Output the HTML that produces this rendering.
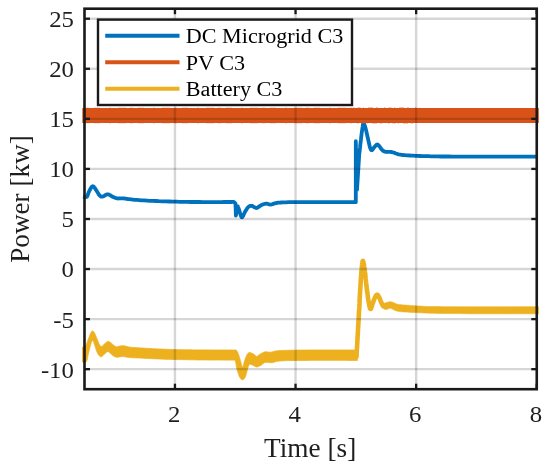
<!DOCTYPE html>
<html><head><meta charset="utf-8"><title>Power plot</title>
<style>
html,body{margin:0;padding:0;background:#fff;}
svg{display:block;font-family:"Liberation Serif",serif;fill:#1e1e1e;}
text{stroke:none;}
</style></head><body>
<svg width="550" height="469" viewBox="0 0 550 469">
<rect width="550" height="469" fill="#fff"/>
<g fill="none" stroke-linejoin="round" stroke-linecap="butt">
<path d="M83.2,196.4 L83.5,196.5 L83.9,196.6 L84.3,196.8 L84.9,196.9 L85.4,197.1 L85.9,197.1 L86.4,197.0 L86.8,196.8 L87.1,196.4 L87.4,195.9 L87.7,195.2 L87.9,194.5 L88.2,193.7 L88.5,192.9 L88.8,192.1 L89.1,191.4 L89.5,190.7 L89.9,189.9 L90.4,189.0 L90.8,188.2 L91.3,187.4 L91.8,186.8 L92.2,186.4 L92.7,186.2 L93.2,186.3 L93.6,186.6 L94.1,187.1 L94.6,187.7 L95.1,188.4 L95.5,189.2 L96.0,189.9 L96.4,190.5 L96.8,191.1 L97.2,191.7 L97.6,192.4 L98.0,193.1 L98.4,193.7 L98.8,194.3 L99.1,194.9 L99.5,195.3 L99.8,195.7 L100.2,196.0 L100.5,196.2 L100.8,196.5 L101.1,196.6 L101.4,196.7 L101.8,196.7 L102.3,196.7 L102.9,196.5 L103.5,196.3 L104.2,195.9 L104.9,195.4 L105.6,195.0 L106.3,194.6 L107.0,194.4 L107.7,194.3 L108.3,194.4 L109.0,194.6 L109.6,194.9 L110.3,195.3 L110.9,195.7 L111.5,196.1 L112.1,196.5 L112.7,196.8 L113.3,197.1 L113.9,197.3 L114.4,197.5 L115.0,197.8 L115.5,198.0 L116.1,198.1 L116.7,198.3 L117.3,198.4 L117.9,198.5 L118.5,198.5 L119.1,198.4 L119.7,198.4 L120.3,198.3 L121.0,198.3 L121.8,198.3 L122.7,198.3 L123.7,198.4 L124.6,198.5 L125.7,198.7 L126.8,198.9 L128.0,199.1 L129.4,199.2 L130.9,199.4 L132.7,199.6 L134.7,199.8 L136.8,199.9 L139.1,200.1 L141.6,200.3 L144.2,200.4 L147.0,200.6 L149.8,200.8 L152.7,200.9 L155.7,201.0 L158.9,201.2 L162.3,201.3 L165.7,201.4 L169.2,201.5 L172.8,201.6 L176.4,201.7 L180.0,201.8 L183.7,201.9 L187.5,201.9 L191.5,202.0 L195.5,202.0 L199.4,202.0 L203.1,202.1 L206.7,202.1 L210.0,202.1 L213.1,202.1 L216.1,202.1 L218.9,202.1 L221.6,202.1 L224.1,202.0 L226.4,202.0 L228.3,202.0 L230.0,202.0 L231.3,202.0 L232.1,202.0 L232.7,201.9 L233.0,201.9 L233.2,201.9 L233.3,201.9 L233.4,201.9 L233.7,202.0 L234.0,202.1 L234.3,202.3 L234.6,202.5 L234.8,202.8 L235.0,203.0 L235.2,203.2 L235.4,203.4 L235.5,203.5 L235.9,215.6 L237.9,206.4 L237.9,206.4 L238.0,206.8 L238.2,207.4 L238.5,208.1 L238.7,208.9 L239.0,209.7 L239.3,210.5 L239.5,211.3 L239.8,212.0 L240.0,212.8 L240.3,213.6 L240.5,214.5 L240.8,215.4 L241.0,216.1 L241.3,216.8 L241.6,217.2 L241.9,217.3 L242.3,217.1 L242.6,216.6 L243.1,215.9 L243.5,215.0 L243.9,214.1 L244.4,213.1 L244.8,212.2 L245.2,211.5 L245.6,210.9 L246.0,210.2 L246.4,209.6 L246.8,209.0 L247.1,208.4 L247.5,207.9 L247.9,207.4 L248.3,207.0 L248.7,206.7 L249.1,206.4 L249.5,206.2 L249.9,206.0 L250.3,205.9 L250.7,205.9 L251.1,205.8 L251.5,205.8 L251.8,205.8 L252.2,205.9 L252.5,206.1 L252.8,206.3 L253.1,206.5 L253.4,206.7 L253.7,206.8 L254.0,207.0 L254.3,207.2 L254.6,207.3 L255.0,207.5 L255.3,207.7 L255.6,207.8 L255.9,207.9 L256.3,208.0 L256.6,208.0 L257.0,207.9 L257.3,207.8 L257.7,207.6 L258.1,207.3 L258.4,207.0 L258.8,206.8 L259.1,206.5 L259.5,206.3 L259.8,206.1 L260.1,205.9 L260.4,205.7 L260.7,205.5 L261.0,205.3 L261.3,205.1 L261.7,204.9 L262.1,204.7 L262.6,204.5 L263.1,204.4 L263.6,204.2 L264.2,204.0 L264.8,203.9 L265.4,203.8 L265.9,203.7 L266.5,203.7 L267.0,203.7 L267.6,203.8 L268.1,204.0 L268.6,204.2 L269.1,204.4 L269.6,204.5 L270.2,204.6 L270.8,204.6 L271.4,204.5 L272.0,204.4 L272.6,204.1 L273.3,203.9 L274.0,203.6 L274.7,203.4 L275.5,203.2 L276.3,203.0 L277.2,202.9 L278.1,202.7 L279.1,202.6 L280.1,202.6 L281.1,202.5 L282.3,202.4 L283.6,202.4 L285.0,202.3 L286.5,202.3 L288.0,202.2 L289.5,202.2 L291.2,202.2 L293.0,202.2 L295.0,202.2 L297.4,202.2 L300.0,202.2 L303.1,202.2 L306.6,202.2 L310.4,202.2 L314.4,202.2 L318.4,202.2 L322.5,202.2 L326.4,202.2 L330.0,202.2 L333.6,202.2 L337.2,202.2 L340.9,202.2 L344.5,202.2 L347.9,202.2 L350.9,202.2 L353.4,202.2 L355.3,202.2 L355.8,202.2 L355.8,141.2 L357.0,190.0 L359.2,155.0 L359.2,155.0 L359.3,153.6 L359.6,151.8 L359.8,149.6 L360.1,147.2 L360.3,144.7 L360.6,142.2 L360.9,140.0 L361.1,138.0 L361.3,136.3 L361.5,134.7 L361.7,133.1 L361.9,131.7 L362.1,130.3 L362.3,129.1 L362.4,128.0 L362.6,127.0 L362.7,126.1 L362.8,125.4 L362.9,124.8 L363.0,124.2 L363.1,123.8 L363.2,123.5 L363.4,123.4 L363.5,123.3 L363.7,123.4 L363.9,123.6 L364.0,123.9 L364.3,124.3 L364.5,124.8 L364.7,125.5 L364.9,126.2 L365.2,127.0 L365.5,127.9 L365.8,129.1 L366.1,130.3 L366.4,131.6 L366.7,133.0 L367.0,134.4 L367.3,135.7 L367.6,137.0 L367.9,138.3 L368.2,139.7 L368.5,141.0 L368.8,142.4 L369.1,143.7 L369.4,145.0 L369.6,146.1 L369.9,147.0 L370.1,147.8 L370.4,148.4 L370.6,149.0 L370.8,149.4 L371.0,149.8 L371.2,150.0 L371.4,150.2 L371.7,150.2 L372.0,150.1 L372.3,149.8 L372.7,149.4 L373.0,149.0 L373.4,148.4 L373.8,147.9 L374.1,147.4 L374.5,147.0 L374.8,146.6 L375.2,146.2 L375.5,145.8 L375.9,145.4 L376.2,145.1 L376.5,144.8 L376.9,144.6 L377.2,144.5 L377.5,144.6 L377.9,144.7 L378.2,145.0 L378.5,145.3 L378.9,145.7 L379.2,146.1 L379.5,146.4 L379.8,146.8 L380.1,147.2 L380.4,147.5 L380.6,148.0 L380.9,148.4 L381.2,148.8 L381.5,149.2 L381.8,149.6 L382.1,149.9 L382.4,150.2 L382.8,150.5 L383.1,150.8 L383.5,151.0 L383.9,151.3 L384.3,151.5 L384.8,151.6 L385.4,151.8 L386.1,151.9 L386.8,151.9 L387.6,151.9 L388.4,151.9 L389.3,151.9 L390.2,151.9 L391.1,152.0 L391.9,152.1 L392.7,152.3 L393.5,152.5 L394.4,152.8 L395.2,153.2 L396.0,153.5 L396.9,153.8 L397.7,154.1 L398.5,154.3 L399.3,154.5 L399.9,154.6 L400.6,154.7 L401.2,154.8 L401.9,154.9 L402.8,155.0 L403.8,155.1 L405.0,155.2 L406.4,155.3 L407.9,155.4 L409.6,155.5 L411.3,155.6 L413.3,155.7 L415.3,155.8 L417.6,155.9 L420.0,156.0 L422.6,156.1 L425.3,156.2 L428.2,156.2 L431.2,156.3 L434.5,156.3 L437.8,156.4 L441.3,156.5 L445.0,156.5 L448.7,156.5 L452.5,156.6 L456.4,156.6 L460.5,156.6 L464.8,156.7 L469.5,156.7 L474.5,156.7 L480.0,156.7 L486.4,156.7 L494.0,156.7 L502.2,156.7 L510.6,156.7 L518.7,156.7 L526.0,156.7 L532.2,156.7 L536.8,156.7" stroke="#0072BD" stroke-width="3.8"/>
<path d="M82.3,115.45 H538.8" stroke="#D95319" stroke-width="15"/>
<path d="M86,107.7 H352 M86,123.2 H352" stroke="#D95319" stroke-width="0.6" stroke-opacity="0.4" stroke-dasharray="3 5 6 9 2 7 8 4"/>
<path d="M353,107.6 H420 M357,123.3 H417" stroke="#D95319" stroke-width="0.8" stroke-opacity="0.5" stroke-dasharray="1.5 3 3 2.5 1 4 5 3 2 6"/>
<path d="M82.5,347.0 L82.7,347.0 L83.1,346.9 L83.4,346.9 L83.8,346.9 L84.3,346.8 L84.7,346.6 L85.1,346.4 L85.5,346.0 L85.8,345.5 L86.2,344.9 L86.5,344.1 L86.8,343.3 L87.1,342.5 L87.4,341.7 L87.7,340.8 L88.0,340.0 L88.3,339.2 L88.6,338.3 L89.0,337.4 L89.3,336.5 L89.6,335.7 L89.9,334.9 L90.2,334.1 L90.5,333.5 L90.8,333.0 L91.0,332.5 L91.3,332.1 L91.5,331.7 L91.8,331.4 L92.0,331.2 L92.3,331.1 L92.5,331.0 L92.7,331.0 L93.0,331.1 L93.2,331.2 L93.4,331.4 L93.7,331.7 L93.9,332.0 L94.2,332.5 L94.5,333.0 L94.8,333.6 L95.2,334.4 L95.6,335.3 L96.0,336.3 L96.4,337.3 L96.8,338.2 L97.1,339.2 L97.5,340.0 L97.8,340.8 L98.2,341.6 L98.5,342.4 L98.8,343.1 L99.1,343.9 L99.4,344.5 L99.7,345.1 L100.0,345.5 L100.3,345.8 L100.5,346.1 L100.7,346.3 L101.0,346.4 L101.2,346.4 L101.4,346.4 L101.7,346.3 L102.0,346.2 L102.3,346.0 L102.7,345.8 L103.1,345.4 L103.5,345.0 L103.8,344.6 L104.2,344.2 L104.6,343.8 L105.0,343.5 L105.4,343.2 L105.7,342.9 L106.1,342.5 L106.4,342.2 L106.8,341.9 L107.1,341.7 L107.5,341.5 L107.8,341.4 L108.1,341.4 L108.5,341.4 L108.8,341.5 L109.1,341.7 L109.5,341.8 L109.8,342.1 L110.1,342.3 L110.5,342.5 L110.9,342.8 L111.2,343.0 L111.6,343.4 L112.0,343.7 L112.4,344.1 L112.8,344.4 L113.1,344.7 L113.5,345.0 L113.8,345.3 L114.1,345.6 L114.4,345.8 L114.7,346.1 L115.0,346.3 L115.3,346.5 L115.6,346.7 L116.0,346.8 L116.4,346.8 L116.9,346.8 L117.4,346.7 L117.9,346.5 L118.5,346.4 L119.0,346.2 L119.5,346.1 L120.0,346.0 L120.5,345.9 L120.9,345.9 L121.4,345.8 L121.8,345.8 L122.3,345.7 L122.7,345.7 L123.2,345.7 L123.6,345.7 L124.0,345.7 L124.4,345.8 L124.9,345.9 L125.3,346.0 L125.7,346.2 L126.1,346.3 L126.5,346.4 L127.0,346.5 L127.5,346.6 L127.9,346.7 L128.4,346.8 L128.8,346.9 L129.3,347.0 L129.9,347.1 L130.5,347.2 L131.3,347.3 L132.1,347.4 L133.0,347.5 L134.0,347.5 L135.0,347.6 L136.1,347.7 L137.3,347.7 L138.6,347.8 L140.0,347.9 L141.5,348.0 L143.2,348.1 L144.9,348.2 L146.8,348.3 L148.7,348.5 L150.8,348.6 L152.8,348.7 L155.0,348.8 L157.2,348.9 L159.5,349.0 L161.9,349.1 L164.4,349.2 L166.9,349.3 L169.5,349.4 L172.2,349.5 L175.0,349.6 L177.9,349.7 L180.8,349.7 L183.8,349.8 L186.9,349.8 L190.0,349.8 L193.3,349.9 L196.6,349.9 L200.0,349.9 L203.7,349.9 L207.7,349.9 L211.9,350.0 L216.2,350.0 L220.3,350.0 L224.0,350.0 L227.3,350.0 L230.0,350.0 L232.0,350.0 L233.4,350.0 L234.4,350.0 L235.0,350.0 L235.4,350.0 L235.7,350.0 L236.0,350.0 L236.3,350.0 L236.4,350.2 L236.6,350.4 L236.8,350.7 L237.0,351.0 L237.2,351.4 L237.4,351.7 L237.6,352.1 L237.8,352.5 L238.0,352.9 L238.2,353.3 L238.3,353.8 L238.5,354.3 L238.7,354.8 L238.8,355.3 L239.0,355.8 L239.2,356.4 L239.4,357.0 L239.6,357.7 L239.8,358.4 L240.0,359.1 L240.2,359.8 L240.4,360.6 L240.6,361.3 L240.8,362.0 L241.0,362.7 L241.2,363.6 L241.4,364.5 L241.6,365.3 L241.9,366.1 L242.1,366.7 L242.3,367.1 L242.5,367.3 L242.7,367.1 L242.9,366.7 L243.1,366.1 L243.4,365.3 L243.6,364.4 L243.8,363.5 L244.0,362.7 L244.2,362.0 L244.4,361.4 L244.6,360.8 L244.8,360.2 L244.9,359.6 L245.1,359.1 L245.3,358.5 L245.5,358.0 L245.7,357.5 L245.9,357.0 L246.1,356.5 L246.3,356.0 L246.6,355.6 L246.8,355.1 L247.0,354.7 L247.3,354.3 L247.5,354.0 L247.7,353.7 L248.0,353.4 L248.2,353.2 L248.4,353.0 L248.6,352.8 L248.9,352.6 L249.2,352.5 L249.5,352.5 L249.9,352.5 L250.3,352.6 L250.7,352.7 L251.2,352.9 L251.6,353.1 L252.0,353.2 L252.4,353.4 L252.8,353.6 L253.1,353.8 L253.4,353.9 L253.7,354.1 L253.9,354.3 L254.1,354.5 L254.3,354.6 L254.6,354.8 L254.8,355.0 L255.0,355.2 L255.3,355.4 L255.5,355.6 L255.7,355.9 L255.9,356.1 L256.1,356.2 L256.4,356.4 L256.6,356.4 L256.9,356.4 L257.1,356.2 L257.4,356.1 L257.7,355.9 L258.0,355.6 L258.2,355.4 L258.5,355.2 L258.8,355.0 L259.1,354.8 L259.3,354.7 L259.5,354.5 L259.8,354.3 L260.0,354.2 L260.3,354.0 L260.6,353.8 L261.0,353.6 L261.4,353.4 L261.9,353.1 L262.4,352.9 L263.0,352.6 L263.6,352.3 L264.2,352.1 L264.8,351.9 L265.4,351.8 L266.0,351.8 L266.7,351.8 L267.3,351.9 L268.0,352.0 L268.7,352.1 L269.4,352.2 L270.1,352.2 L270.8,352.2 L271.5,352.1 L272.1,352.0 L272.7,351.8 L273.3,351.6 L274.0,351.4 L274.7,351.2 L275.5,351.0 L276.3,350.9 L277.2,350.8 L278.1,350.7 L279.1,350.6 L280.1,350.6 L281.1,350.5 L282.3,350.5 L283.6,350.4 L285.0,350.4 L286.5,350.4 L288.0,350.3 L289.5,350.3 L291.2,350.2 L293.0,350.2 L295.0,350.2 L297.4,350.1 L300.0,350.1 L303.1,350.1 L306.5,350.1 L310.3,350.0 L314.2,350.0 L318.3,350.0 L322.4,350.0 L326.3,350.0 L330.0,350.0 L333.7,350.0 L337.6,350.0 L341.5,350.0 L345.4,350.0 L349.0,350.0 L352.2,350.0 L354.9,350.0 L357.0,350.0 L357.4,360.4 L355.3,360.4 L352.5,360.4 L349.2,360.4 L345.6,360.3 L341.7,360.3 L337.7,360.3 L333.7,360.3 L330.0,360.3 L326.3,360.3 L322.3,360.3 L318.3,360.3 L314.2,360.3 L310.3,360.3 L306.5,360.4 L303.1,360.4 L300.0,360.4 L297.4,360.4 L295.0,360.5 L293.0,360.5 L291.1,360.5 L289.4,360.6 L287.9,360.6 L286.4,360.6 L285.0,360.7 L283.7,360.8 L282.5,360.8 L281.5,360.9 L280.6,360.9 L279.8,361.0 L279.0,361.1 L278.2,361.2 L277.4,361.3 L276.6,361.4 L275.9,361.6 L275.2,361.8 L274.6,362.1 L273.9,362.3 L273.3,362.5 L272.6,362.6 L271.9,362.7 L271.1,362.7 L270.3,362.7 L269.4,362.6 L268.6,362.5 L267.7,362.4 L266.9,362.3 L266.1,362.3 L265.4,362.4 L264.7,362.6 L264.1,362.9 L263.5,363.3 L262.9,363.8 L262.4,364.2 L261.9,364.6 L261.4,365.0 L261.0,365.3 L260.6,365.5 L260.3,365.7 L260.0,365.8 L259.8,365.9 L259.5,366.0 L259.3,366.1 L259.1,366.2 L258.8,366.3 L258.5,366.4 L258.2,366.5 L258.0,366.6 L257.7,366.8 L257.4,366.9 L257.1,366.9 L256.9,367.0 L256.6,367.0 L256.4,367.0 L256.1,366.9 L255.9,366.9 L255.7,366.8 L255.5,366.6 L255.3,366.5 L255.0,366.4 L254.8,366.3 L254.6,366.2 L254.3,366.1 L254.1,366.0 L253.9,365.8 L253.6,365.7 L253.4,365.6 L253.1,365.4 L252.8,365.3 L252.5,365.1 L252.1,365.0 L251.7,364.8 L251.3,364.6 L250.8,364.4 L250.5,364.3 L250.1,364.2 L249.8,364.2 L249.6,364.3 L249.4,364.4 L249.2,364.6 L249.0,364.8 L248.9,365.1 L248.8,365.4 L248.6,365.7 L248.5,366.0 L248.4,366.3 L248.2,366.7 L248.1,367.1 L248.0,367.5 L247.8,367.9 L247.7,368.4 L247.6,368.9 L247.4,369.5 L247.2,370.2 L247.0,371.0 L246.8,371.9 L246.6,372.8 L246.3,373.7 L246.1,374.6 L245.9,375.3 L245.7,376.0 L245.5,376.5 L245.3,377.0 L245.1,377.4 L244.9,377.7 L244.8,378.0 L244.6,378.3 L244.4,378.6 L244.2,378.8 L244.0,379.0 L243.8,379.2 L243.6,379.4 L243.4,379.5 L243.1,379.7 L242.9,379.7 L242.7,379.8 L242.5,379.8 L242.3,379.8 L242.1,379.7 L241.9,379.7 L241.6,379.5 L241.4,379.4 L241.2,379.2 L241.0,379.0 L240.8,378.8 L240.6,378.6 L240.4,378.3 L240.2,378.0 L240.0,377.7 L239.8,377.4 L239.6,377.0 L239.4,376.5 L239.2,376.0 L238.9,375.4 L238.7,374.6 L238.4,373.8 L238.1,372.9 L237.8,372.0 L237.5,371.1 L237.2,370.3 L237.0,369.5 L236.8,368.8 L236.7,368.0 L236.5,367.3 L236.4,366.6 L236.3,365.9 L236.2,365.2 L236.1,364.6 L236.0,364.0 L235.9,363.4 L235.8,362.8 L235.7,362.3 L235.5,361.8 L235.4,361.3 L235.3,360.8 L235.3,360.5 L235.2,360.2 L235.0,360.2 L234.8,360.2 L234.7,360.2 L234.5,360.2 L234.0,360.1 L233.2,360.1 L231.9,360.1 L230.0,360.1 L227.4,360.1 L224.1,360.1 L220.3,360.0 L216.2,360.0 L212.0,360.0 L207.7,360.0 L203.7,359.9 L200.0,359.9 L196.6,359.9 L193.3,359.8 L190.0,359.8 L186.9,359.7 L183.8,359.7 L180.8,359.6 L177.9,359.6 L175.0,359.5 L172.2,359.4 L169.5,359.3 L166.9,359.3 L164.4,359.2 L161.9,359.1 L159.5,359.0 L157.2,358.9 L155.0,358.8 L152.8,358.7 L150.8,358.6 L148.7,358.5 L146.8,358.4 L144.9,358.3 L143.2,358.2 L141.5,358.1 L140.0,358.0 L138.6,357.9 L137.3,357.9 L136.1,357.9 L135.0,357.8 L134.0,357.8 L133.0,357.8 L132.1,357.7 L131.3,357.7 L130.5,357.6 L129.9,357.6 L129.3,357.5 L128.8,357.5 L128.4,357.4 L127.9,357.3 L127.5,357.3 L127.0,357.2 L126.5,357.1 L126.1,357.0 L125.7,356.9 L125.3,356.9 L124.9,356.8 L124.4,356.7 L124.0,356.6 L123.6,356.6 L123.2,356.6 L122.7,356.6 L122.3,356.6 L121.8,356.6 L121.4,356.7 L120.9,356.7 L120.4,356.8 L120.0,356.8 L119.6,356.9 L119.1,356.9 L118.7,357.0 L118.2,357.1 L117.8,357.2 L117.3,357.2 L116.9,357.2 L116.5,357.2 L116.1,357.1 L115.7,357.0 L115.3,356.9 L115.0,356.8 L114.6,356.6 L114.2,356.4 L113.9,356.2 L113.5,356.0 L113.1,355.7 L112.7,355.5 L112.4,355.1 L112.0,354.8 L111.6,354.4 L111.2,354.1 L110.9,353.8 L110.5,353.5 L110.2,353.2 L109.8,352.9 L109.5,352.6 L109.2,352.3 L108.8,352.0 L108.5,351.8 L108.2,351.7 L107.8,351.7 L107.4,351.8 L107.0,352.0 L106.6,352.2 L106.1,352.6 L105.7,352.9 L105.3,353.3 L104.9,353.7 L104.5,354.0 L104.1,354.3 L103.8,354.7 L103.4,355.1 L103.1,355.5 L102.8,355.8 L102.4,356.2 L102.1,356.4 L101.8,356.6 L101.5,356.7 L101.2,356.8 L100.9,356.8 L100.6,356.7 L100.4,356.6 L100.1,356.5 L99.8,356.3 L99.5,356.0 L99.2,355.7 L98.9,355.3 L98.6,354.9 L98.3,354.5 L98.0,353.9 L97.6,353.4 L97.3,352.7 L97.0,352.0 L96.7,351.2 L96.3,350.2 L96.0,349.1 L95.6,348.0 L95.3,346.8 L94.9,345.8 L94.6,344.8 L94.3,344.0 L94.0,343.3 L93.8,342.6 L93.6,342.1 L93.3,341.5 L93.1,341.1 L92.9,340.8 L92.7,340.6 L92.5,340.5 L92.3,340.6 L92.1,340.8 L91.9,341.1 L91.7,341.5 L91.5,342.0 L91.3,342.6 L91.0,343.3 L90.8,344.0 L90.5,344.9 L90.3,345.9 L90.0,347.0 L89.7,348.2 L89.4,349.4 L89.1,350.7 L88.8,351.9 L88.5,353.0 L88.2,354.1 L88.0,355.3 L87.8,356.6 L87.6,357.8 L87.4,358.9 L87.1,359.9 L86.8,360.8 L86.5,361.5 L86.1,361.9 L85.5,362.2 L85.0,362.3 L84.4,362.3 L83.8,362.2 L83.3,362.1 L82.8,362.0 L82.5,362.0Z" fill="#EDB120" stroke="#EDB120" stroke-width="0.8"/>
<path d="M382.3,303.6 L382.4,303.6 L382.5,303.6 L382.7,303.6 L382.8,303.6 L383.0,303.5 L383.3,303.5 L383.5,303.5 L383.8,303.4 L384.1,303.3 L384.5,303.2 L384.9,303.1 L385.3,302.9 L385.7,302.8 L386.1,302.6 L386.6,302.5 L387.0,302.4 L387.4,302.3 L387.9,302.2 L388.3,302.0 L388.7,301.9 L389.2,301.8 L389.6,301.7 L390.1,301.7 L390.6,301.7 L391.1,301.8 L391.7,301.9 L392.2,302.1 L392.8,302.3 L393.4,302.6 L394.0,302.8 L394.5,303.0 L395.0,303.2 L395.4,303.4 L395.8,303.5 L396.1,303.7 L396.4,303.8 L396.7,304.0 L397.1,304.1 L397.7,304.3 L398.4,304.4 L399.3,304.5 L400.4,304.6 L401.5,304.8 L402.8,304.9 L404.1,305.0 L405.5,305.1 L406.9,305.2 L408.4,305.3 L409.9,305.4 L411.6,305.5 L413.3,305.7 L415.0,305.8 L416.8,305.9 L418.6,306.0 L420.3,306.1 L422.0,306.2 L423.4,306.3 L424.4,306.3 L425.3,306.4 L426.3,306.4 L427.4,306.5 L429.1,306.5 L431.4,306.6 L434.5,306.6 L438.5,306.6 L443.2,306.7 L448.6,306.7 L454.4,306.7 L460.5,306.8 L466.9,306.8 L473.5,306.8 L480.0,306.8 L487.1,306.8 L495.1,306.8 L503.6,306.8 L512.1,306.8 L520.3,306.7 L527.7,306.7 L533.9,306.7 L538.5,306.7 L538.5,313.8 L533.9,313.8 L527.7,313.8 L520.3,313.8 L512.1,313.8 L503.6,313.8 L495.1,313.8 L487.1,313.8 L480.0,313.8 L473.5,313.8 L466.9,313.7 L460.5,313.6 L454.4,313.6 L448.6,313.5 L443.2,313.4 L438.5,313.4 L434.5,313.3 L431.4,313.2 L429.1,313.2 L427.4,313.1 L426.3,313.1 L425.3,313.0 L424.4,312.9 L423.4,312.9 L422.0,312.8 L420.3,312.7 L418.6,312.7 L416.8,312.6 L415.0,312.5 L413.2,312.4 L411.5,312.4 L409.9,312.3 L408.4,312.2 L407.0,312.1 L405.7,312.0 L404.5,312.0 L403.3,311.9 L402.2,311.8 L401.2,311.7 L400.2,311.6 L399.3,311.5 L398.5,311.4 L397.8,311.3 L397.2,311.1 L396.7,311.0 L396.2,310.8 L395.7,310.7 L395.2,310.5 L394.7,310.3 L394.1,310.1 L393.6,309.8 L393.0,309.5 L392.4,309.1 L391.9,308.8 L391.3,308.6 L390.8,308.4 L390.2,308.3 L389.6,308.3 L389.0,308.5 L388.4,308.7 L387.8,309.0 L387.2,309.2 L386.7,309.4 L386.1,309.6 L385.6,309.6 L385.1,309.5 L384.6,309.3 L384.1,309.0 L383.7,308.6 L383.2,308.3 L382.9,308.0 L382.5,307.7 L382.3,307.5Z" fill="#EDB120" stroke="#EDB120" stroke-width="0.6"/>
<path d="M356.4,358.0 L356.4,358.0 L356.6,355.0 L356.8,351.0 L357.1,346.2 L357.4,340.9 L357.7,335.3 L358.0,329.8 L358.3,324.6 L358.6,320.0 L358.8,315.8 L359.0,311.7 L359.3,307.7 L359.5,303.9 L359.6,300.2 L359.8,296.6 L360.0,293.2 L360.2,290.0 L360.4,286.9 L360.6,284.0 L360.7,281.3 L360.9,278.7 L361.1,276.3 L361.3,274.0 L361.4,271.9 L361.6,270.0 L361.8,268.2 L361.9,266.6 L362.1,265.0 L362.2,263.7 L362.4,262.6 L362.5,261.7 L362.7,261.2 L362.9,261.0 L363.1,261.2 L363.3,261.8 L363.5,262.7 L363.8,263.9 L364.0,265.2 L364.2,266.8 L364.5,268.4 L364.7,270.0 L364.9,271.8 L365.2,273.8 L365.4,275.9 L365.6,278.2 L365.9,280.5 L366.1,282.8 L366.4,285.0 L366.6,287.0 L366.8,288.9 L367.1,290.9 L367.3,292.7 L367.6,294.6 L367.8,296.3 L368.0,298.0 L368.3,299.6 L368.5,301.0 L368.7,302.4 L369.0,303.7 L369.2,305.0 L369.4,306.2 L369.7,307.2 L369.9,308.1 L370.2,308.7 L370.4,309.0 L370.7,309.0 L370.9,308.7 L371.2,308.1 L371.4,307.4 L371.7,306.5 L372.0,305.6 L372.2,304.8 L372.5,304.0 L372.8,303.3 L373.1,302.5 L373.3,301.7 L373.6,300.9 L373.9,300.1 L374.2,299.3 L374.5,298.6 L374.8,298.0 L375.1,297.4 L375.4,296.8 L375.7,296.3 L375.9,295.8 L376.2,295.3 L376.5,295.0 L376.8,294.8 L377.1,294.7 L377.4,294.8 L377.7,295.0 L378.0,295.4 L378.3,295.8 L378.6,296.3 L378.9,296.9 L379.2,297.4 L379.5,298.0 L379.8,298.6 L380.1,299.3 L380.3,300.0 L380.6,300.8 L380.9,301.5 L381.2,302.2 L381.4,302.9 L381.7,303.5 L382.0,304.0 L382.2,304.5 L382.5,305.0 L382.7,305.4 L383.0,305.8 L383.3,306.1 L383.6,306.3 L383.9,306.5 L384.3,306.6 L384.7,306.5 L385.2,306.4 L385.6,306.2 L386.1,306.0 L386.6,305.8 L387.0,305.6 L387.5,305.5 L387.9,305.4 L388.3,305.3 L388.8,305.3 L389.2,305.2 L389.6,305.1 L390.0,305.1 L390.4,305.1 L390.9,305.2 L391.4,305.3 L392.0,305.5 L392.6,305.7 L393.2,306.0 L393.7,306.2 L394.2,306.5 L394.7,306.7 L395.0,306.8" stroke="#EDB120" stroke-width="4.6"/>
</g>
<g stroke="#000" stroke-opacity="0.16" stroke-width="2.4"><line x1="174.95" y1="8.7" x2="174.95" y2="389.2"/><line x1="295.55" y1="8.7" x2="295.55" y2="389.2"/><line x1="416.15" y1="8.7" x2="416.15" y2="389.2"/><line x1="84.5" y1="369.17" x2="536.75" y2="369.17"/><line x1="84.5" y1="319.11" x2="536.75" y2="319.11"/><line x1="84.5" y1="269.04" x2="536.75" y2="269.04"/><line x1="84.5" y1="218.98" x2="536.75" y2="218.98"/><line x1="84.5" y1="168.91" x2="536.75" y2="168.91"/><line x1="84.5" y1="118.84" x2="536.75" y2="118.84"/><line x1="84.5" y1="68.78" x2="536.75" y2="68.78"/><line x1="84.5" y1="18.71" x2="536.75" y2="18.71"/></g>
<g stroke="#1a1a1a" stroke-width="2.3"><line x1="174.95" y1="389.2" x2="174.95" y2="383.7"/><line x1="174.95" y1="8.7" x2="174.95" y2="14.2"/><line x1="295.55" y1="389.2" x2="295.55" y2="383.7"/><line x1="295.55" y1="8.7" x2="295.55" y2="14.2"/><line x1="416.15" y1="389.2" x2="416.15" y2="383.7"/><line x1="416.15" y1="8.7" x2="416.15" y2="14.2"/><line x1="536.75" y1="389.2" x2="536.75" y2="383.7"/><line x1="536.75" y1="8.7" x2="536.75" y2="14.2"/><line x1="84.5" y1="369.17" x2="90.0" y2="369.17"/><line x1="536.75" y1="369.17" x2="531.25" y2="369.17"/><line x1="84.5" y1="319.11" x2="90.0" y2="319.11"/><line x1="536.75" y1="319.11" x2="531.25" y2="319.11"/><line x1="84.5" y1="269.04" x2="90.0" y2="269.04"/><line x1="536.75" y1="269.04" x2="531.25" y2="269.04"/><line x1="84.5" y1="218.98" x2="90.0" y2="218.98"/><line x1="536.75" y1="218.98" x2="531.25" y2="218.98"/><line x1="84.5" y1="168.91" x2="90.0" y2="168.91"/><line x1="536.75" y1="168.91" x2="531.25" y2="168.91"/><line x1="84.5" y1="118.84" x2="90.0" y2="118.84"/><line x1="536.75" y1="118.84" x2="531.25" y2="118.84"/><line x1="84.5" y1="68.78" x2="90.0" y2="68.78"/><line x1="536.75" y1="68.78" x2="531.25" y2="68.78"/><line x1="84.5" y1="18.71" x2="90.0" y2="18.71"/><line x1="536.75" y1="18.71" x2="531.25" y2="18.71"/></g>
<rect x="84.5" y="8.7" width="452.25" height="380.5" fill="none" stroke="#1a1a1a" stroke-width="2.6"/>
<rect x="98" y="19.6" width="254" height="85.4" fill="#fff" stroke="#1a1a1a" stroke-width="2.4"/>
<g stroke-width="4" fill="none">
<line x1="105.2" y1="35.7" x2="179.5" y2="35.7" stroke="#0072BD"/>
<line x1="105.2" y1="62.2" x2="179.5" y2="62.2" stroke="#D95319"/>
<line x1="105.2" y1="88.8" x2="179.5" y2="88.8" stroke="#EDB120"/>
</g>
<g class="lg" font-size="21.6px" fill="#000">
<text transform="translate(185.8,43.2) scale(1.026,1)">DC Microgrid C3</text>
<text transform="translate(185.8,69.8) scale(1.026,1)">PV C3</text>
<text transform="translate(185.8,96.3) scale(1.026,1)">Battery C3</text>
</g>
<g font-size="24px"><text transform="translate(174.1,422.1) scale(1.033,1)" text-anchor="middle">2</text><text transform="translate(294.8,422.1) scale(1.033,1)" text-anchor="middle">4</text><text transform="translate(415.3,422.1) scale(1.033,1)" text-anchor="middle">6</text><text transform="translate(536.0,422.1) scale(1.033,1)" text-anchor="middle">8</text><text transform="translate(73.9,377.6) scale(1.033,1)" text-anchor="end">-10</text><text transform="translate(73.9,327.5) scale(1.033,1)" text-anchor="end">-5</text><text transform="translate(73.9,277.4) scale(1.033,1)" text-anchor="end">0</text><text transform="translate(73.9,227.4) scale(1.033,1)" text-anchor="end">5</text><text transform="translate(73.9,177.3) scale(1.033,1)" text-anchor="end">10</text><text transform="translate(73.9,127.2) scale(1.033,1)" text-anchor="end">15</text><text transform="translate(73.9,77.2) scale(1.033,1)" text-anchor="end">20</text><text transform="translate(73.9,27.1) scale(1.033,1)" text-anchor="end">25</text></g>
<text transform="translate(310.2,456.7) scale(1.034,1)" font-size="26.4px" text-anchor="middle">Time [s]</text>
<text transform="translate(28.7,199) rotate(-90) scale(1.03,1)" font-size="26.4px" text-anchor="middle">Power [kw]</text>
</svg>
</body></html>
